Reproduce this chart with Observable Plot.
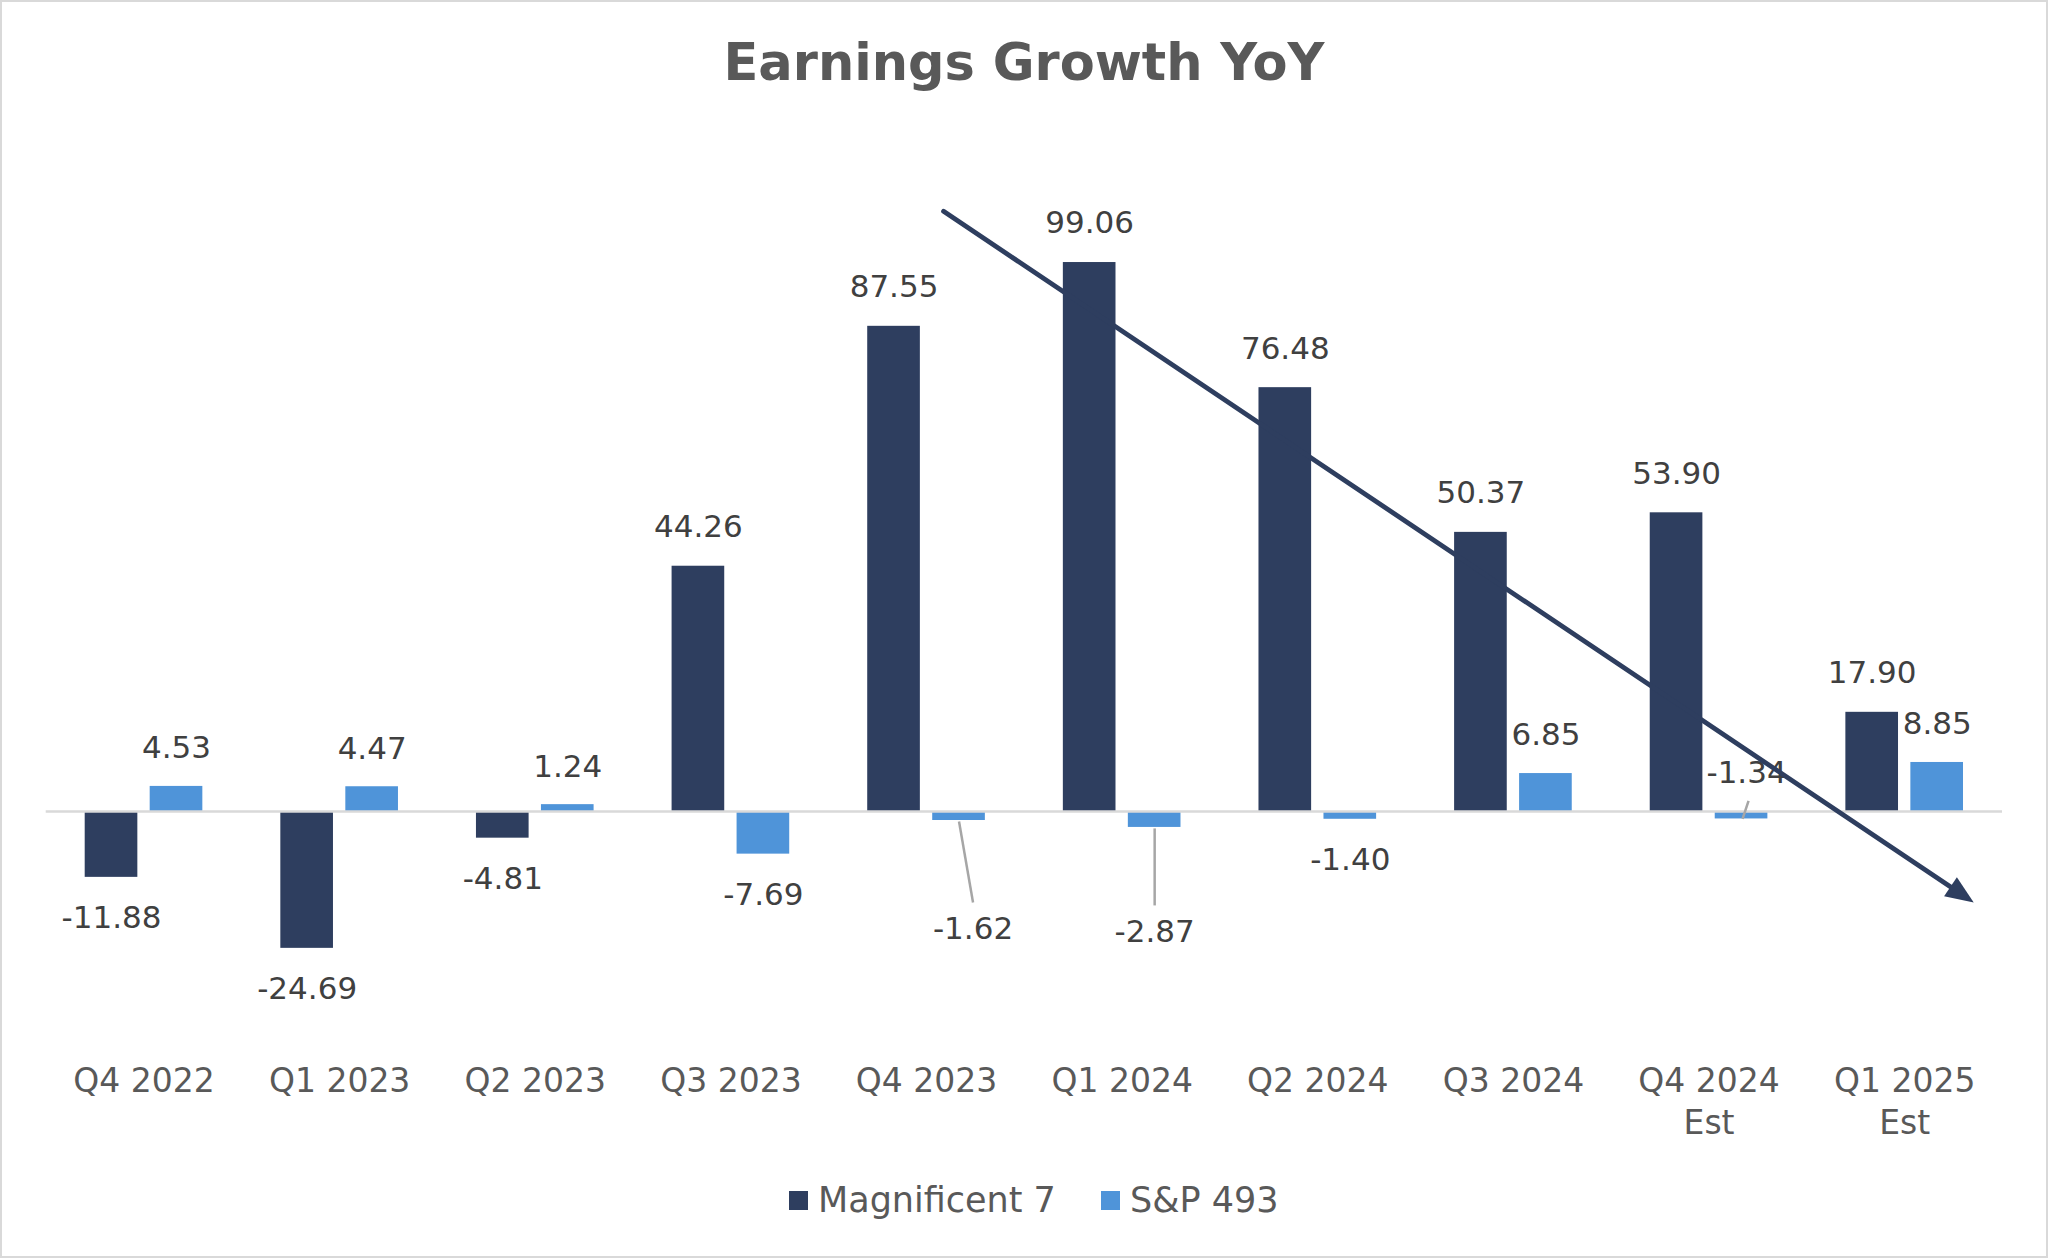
<!DOCTYPE html>
<html>
<head>
<meta charset="utf-8">
<script src="https://cdn.jsdelivr.net/npm/d3@7"></script>
<script src="https://cdn.jsdelivr.net/npm/@observablehq/plot@0.6"></script>
<style>
  html, body { margin: 0; padding: 0; background: #fff; }
  #wrap { position: relative; width: 2048px; height: 1258px; background: #fff; font-family: "DejaVu Sans", sans-serif; overflow: hidden; }
  #frame { position: absolute; left: 0; top: 0; right: 0; bottom: 0; border: 2px solid #d9d9d9; pointer-events: none; }
  #title { position: absolute; left: 0; right: 0; top: 30px; text-align: center; font-weight: bold; font-size: 51px; line-height: 66px; color: #595959; }
  #chart { position: absolute; left: 0; top: 120px; }
  .lg { position: absolute; top: 1175px; height: 50px; line-height: 50px; font-size: 35px; color: #595959; white-space: nowrap; }
  .sw { position: absolute; top: 1191px; width: 19px; height: 19px; }
</style>
</head>
<body>
<div id="wrap">
  <div id="title">Earnings Growth YoY</div>
  <div id="chart"></div>
  <div id="legend"></div>
  <div id="frame"></div>
</div>
<script>
// ---- data ----
const categories = ["Q4 2022", "Q1 2023", "Q2 2023", "Q3 2023", "Q4 2023", "Q1 2024", "Q2 2024", "Q3 2024", "Q4 2024\nEst", "Q1 2025\nEst"];
const seriesNames = ["Magnificent 7", "S&P 493"];
const mag7 = [-11.88, -24.69, -4.81, 44.26, 87.55, 99.06, 76.48, 50.37, 53.90, 17.90];
const sp493 = [4.53, 4.47, 1.24, -7.69, -1.62, -2.87, -1.40, 6.85, -1.34, 8.85];
// trend arrow annotation (category index units, value units)
const trendStart = {x: 4.587, y: 108.3};
const trendEnd = {x: 9.853, y: -16.4};

// ---- style / layout ----
const colors = ["#2E3E5F", "#4F94D9"];
const W = 2048, H = 1030;
const mLeft = 45.7, mRight = 46, mTop = 81.4, mBottom = 117.3;
const yDomain = [-40, 110];
const pxPerX = (W - mLeft - mRight) / categories.length;
const pxPerY = (H - mTop - mBottom) / (yDomain[1] - yDomain[0]);
const inner = d3.scaleBand().domain(seriesNames).range([0, 1]).paddingInner(0.19).paddingOuter(0.6);

// special label placements for small S&P values (pixel offsets)
const spLabelShift = {
  "Q4 2023": {dx: 14, dy: 109, leader: [0, 1, 14, 82]},
  "Q1 2024": {dx: 0, dy: 105, leader: [0, 1, 0, 78]},
  "Q4 2024\nEst": {dx: 5, dy: -46, leader: [1, 0, 7, -18]}
};

const rows = [];
categories.forEach((c, i) => {
  [mag7[i], sp493[i]].forEach((v, k) => {
    const s = seriesNames[k];
    const x1 = i + inner(s);
    rows.push({i, cat: c, series: s, value: v, x1, x2: x1 + inner.bandwidth(), xc: x1 + inner.bandwidth() / 2});
  });
});

const labelMarks = rows.map(d => {
  let dx = 0, dy;
  const isMag = d.series === seriesNames[0];
  if (isMag) dy = d.value >= 0 ? -39 : 41;
  else dy = d.value >= 0 ? -38 : 41;
  if (!isMag && spLabelShift[d.cat]) { dx = spLabelShift[d.cat].dx; dy = spLabelShift[d.cat].dy; }
  return Plot.text([d], {x: "xc", y: "value", text: v => v.value.toFixed(2), dx, dy,
    fontSize: 31, fill: "#404040", lineAnchor: "middle", textAnchor: "middle"});
});

const leaders = rows.filter(d => d.series === seriesNames[1] && spLabelShift[d.cat]).map(d => {
  const [ax, ay, bx, by] = spLabelShift[d.cat].leader;
  return {x1: d.xc + ax / pxPerX, y1: d.value - ay / pxPerY, x2: d.xc + bx / pxPerX, y2: d.value - by / pxPerY};
});

const angle = Math.atan2((trendEnd.x - trendStart.x) * pxPerX, -(trendStart.y - trendEnd.y) * pxPerY) * 180 / Math.PI;

const chart = Plot.plot({
  width: W, height: H,
  marginLeft: mLeft, marginRight: mRight, marginTop: mTop, marginBottom: mBottom,
  style: {fontFamily: "DejaVu Sans, sans-serif", fontSize: "33px", color: "#595959", background: "transparent"},
  x: {type: "linear", domain: [0, categories.length], axis: null},
  y: {domain: yDomain, axis: null},
  color: {domain: seriesNames, range: colors},
  marks: [
    Plot.rect(rows, {x1: "x1", x2: "x2", y1: 0, y2: "value", fill: "series"}),
    Plot.ruleY([0], {stroke: "#d9d9d9", strokeWidth: 2.5}),
    Plot.axisX({anchor: "bottom", ticks: d3.range(categories.length).map(i => i + 0.5),
      tickFormat: t => categories[Math.floor(t)], tickSize: 0, tickPadding: 29,
      fontSize: 33, lineHeight: 1.27, fill: "#595959", label: null}),
    Plot.link(leaders, {x1: "x1", y1: "y1", x2: "x2", y2: "y2", stroke: "#a6a6a6", strokeWidth: 2.5}),
    ...labelMarks,
    Plot.arrow([{a: trendStart, b: trendEnd}], {x1: d => d.a.x, y1: d => d.a.y, x2: d => d.b.x, y2: d => d.b.y,
      stroke: colors[0], strokeWidth: 4.8, headLength: 0, insetEnd: 16}),
    Plot.vector([trendEnd], {x: "x", y: "y", rotate: angle, length: 28, r: 11.5, shape: "spike", anchor: "end",
      fill: colors[0], stroke: "none"})
  ]
});
document.getElementById("chart").appendChild(chart);

// legend
const legend = document.getElementById("legend");
const lgPos = [[789, 818], [1101, 1130]];
seriesNames.forEach((s, k) => {
  const sw = document.createElement("div");
  sw.className = "sw"; sw.style.left = lgPos[k][0] + "px"; sw.style.background = colors[k];
  const t = document.createElement("div");
  t.className = "lg"; t.style.left = lgPos[k][1] + "px"; t.textContent = s;
  legend.appendChild(sw); legend.appendChild(t);
});
</script>
</body>
</html>
